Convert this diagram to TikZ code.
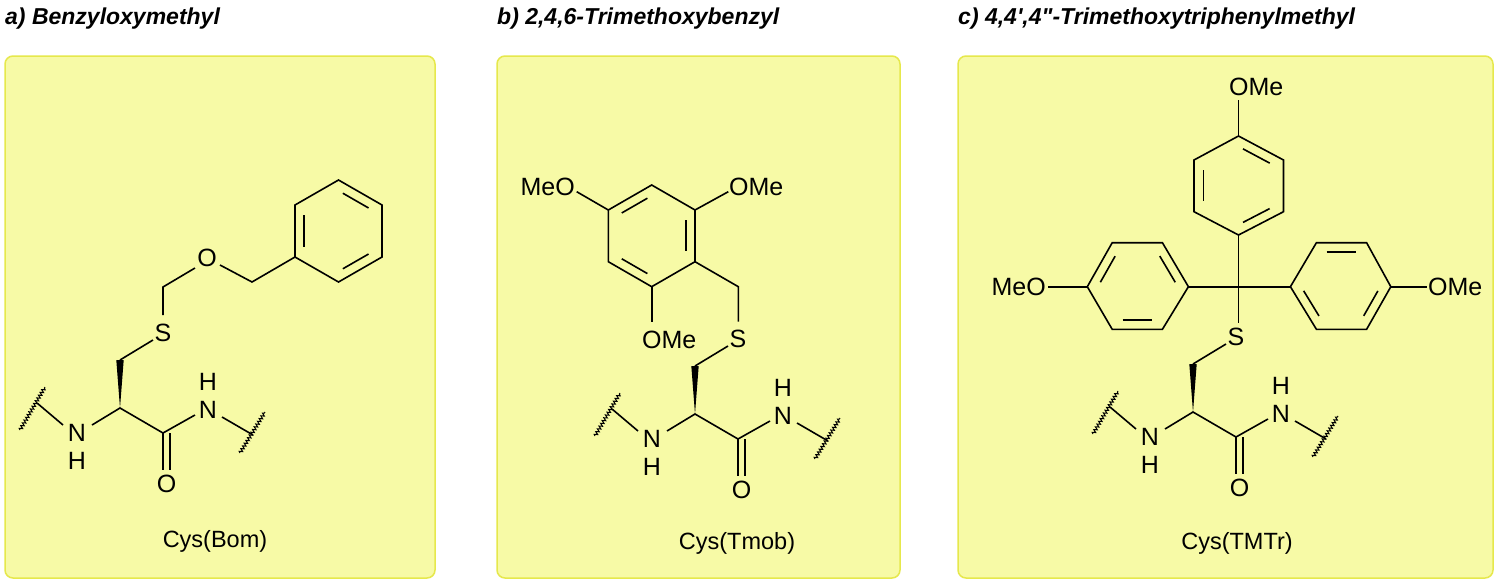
\documentclass[tikz,border=0pt]{standalone}
\usepackage{fontspec}
\setmainfont{Liberation Sans}
\newfontfamily\ttlfont{Liberation Sans}
\usetikzlibrary{calc,decorations.pathmorphing}
\definecolor{boxfill}{HTML}{F7FAA6}
\definecolor{boxline}{HTML}{E6E84C}
\tikzset{
  bond/.style={line width=1.6pt,line cap=butt},
  atom/.style={inner sep=0pt,font=\fontsize{25}{25}\selectfont},
  wavy/.style={line width=1pt,decorate,decoration={snake,segment length=3.2pt,amplitude=1.6pt}},
  panel/.style={draw=boxline,fill=boxfill,line width=1.5pt,rounded corners=8pt},
  ttl/.style={anchor=west,inner sep=0pt,font=\ttlfont\fontsize{23}{23}\selectfont\bfseries\itshape},
  caption/.style={inner sep=0pt,font=\fontsize{23.5}{23.5}\selectfont}
}
\newcommand{\backbone}[3]{%
\begin{scope}[shift={(#1,#2)}]
  \coordinate (#3wl1) at (20,430); \coordinate (#3wl2) at (45,387);
  \coordinate (#3a1) at (37,403); \coordinate (#3a2) at (63,425);
  \node[atom] (#3N1) at (77,433) {N}; \node[atom] (#3H1) at (77,461) {H};
  \coordinate (#3b1) at (92,425); \coordinate (#3Ca) at (120,408);
  \coordinate (#3CH) at (120,360); \coordinate (#3CHl) at (116.3,360); \coordinate (#3CHr) at (123.7,360);
  \coordinate (#3s1) at (153,340);
  \node[atom] (#3S) at (163,333) {S};
  \coordinate (#3C) at (163,433); \coordinate (#3Cb) at (163,470);
  \coordinate (#3C2) at (170,433); \coordinate (#3C2b) at (170,470);
  \node[atom] (#3O) at (166.5,484) {O};
  \coordinate (#3c1) at (195,415);
  \node[atom] (#3N2) at (208,410) {N}; \node[atom] (#3H2) at (208,382) {H};
  \coordinate (#3d1) at (222,417); \coordinate (#3d2) at (253,435);
  \coordinate (#3wr1) at (240,453); \coordinate (#3wr2) at (265,412);
  \draw[wavy] (#3wl1) -- (#3wl2);
  \draw[bond] (#3a1) -- (#3a2);
  \draw[bond] (#3b1) -- (#3Ca) -- (#3C) -- (#3c1);
  \fill (#3Ca) -- (#3CHl) -- (#3CHr) -- cycle;
  \draw[bond] (#3CH) -- (#3s1);
  \draw[bond] (#3C) -- (#3Cb);
  \draw[bond] (#3C2) -- (#3C2b);
  \draw[bond] (#3d1) -- (#3d2);
  \draw[wavy] (#3wr1) -- (#3wr2);
\end{scope}}
\newcommand{\inner}[3]{\draw[bond,shorten <=5pt,shorten >=5pt] ($(#1)!0.79!(#2)$) -- ($(#1)!0.79!(#3)$);}
\begin{document}
\begin{tikzpicture}[x=1pt,y=-1pt]
\useasboundingbox (0,0) rectangle (1498,584);
\fill[white] (0,0) rectangle (1498,584);
\draw[panel] (5,56) rectangle (435,578);
\draw[panel] (497,56) rectangle (900,578);
\draw[panel] (958,56) rectangle (1493,578);
\node[ttl] (ta) at (5,19) {a) Benzyloxymethyl};
\node[ttl] (tb) at (497,19) {b) 2,4,6-Trimethoxybenzyl};
\node[ttl] (tc) at (958,19) {c) 4,4',4"-Trimethoxytriphenylmethyl};
% ===== panel a =====
\backbone{0}{0}{a}
\node[caption] (capa) at (215,541) {Cys(Bom)};
\coordinate (as2) at (163,315); \coordinate (aM1) at (163,287); \coordinate (ao1) at (195,268);
\node[atom] (aO) at (207,258) {O};
\coordinate (ao2) at (220,265); \coordinate (aM2) at (252,282);
\coordinate (ar1) at (295,257); \coordinate (ar2) at (295,205); \coordinate (ar3) at (338.5,180);
\coordinate (ar4) at (382,205); \coordinate (ar5) at (382,257); \coordinate (ar6) at (338.5,282);
\coordinate (arc) at (338.5,231);
\draw[bond] (as2) -- (aM1) -- (ao1);
\draw[bond] (ao2) -- (aM2) -- (ar1);
\draw[bond,line join=miter] (ar1) -- (ar2) -- (ar3) -- (ar4) -- (ar5) -- (ar6) -- cycle;
\inner{arc}{ar1}{ar2} \inner{arc}{ar3}{ar4} \inner{arc}{ar5}{ar6}
% ===== panel b =====
\backbone{575}{6}{b}
\node[caption] (capb) at (737,543) {Cys(Tmob)};
\coordinate (br1) at (651.7,185); \coordinate (br2) at (695,210); \coordinate (br3) at (695,261.7);
\coordinate (br4) at (651.7,286.7); \coordinate (br5) at (608.3,261.7); \coordinate (br6) at (608.3,210);
\coordinate (brc) at (651.7,236);
\draw[bond,line join=miter] (br1) -- (br2) -- (br3) -- (br4) -- (br5) -- (br6) -- cycle;
\inner{brc}{br6}{br1} \inner{brc}{br2}{br3} \inner{brc}{br4}{br5}
\coordinate (bm1) at (576.7,191.7); \node[atom,anchor=east] (bMeO) at (575,187) {MeO};
\draw[bond] (br6) -- (bm1);
\coordinate (bm2) at (728.3,191.7); \node[atom,anchor=west] (bOMe1) at (729,187) {OMe};
\draw[bond] (br2) -- (bm2);
\coordinate (bm3) at (651.7,321.7); \node[atom,anchor=west] (bOMe2) at (642,340) {OMe};
\draw[bond] (br4) -- (bm3);
\coordinate (bM) at (738.3,286.7); \coordinate (bs2) at (738.3,321.7);
\draw[bond] (br3) -- (bM) -- (bs2);
% ===== panel c =====
\backbone{1073}{4}{c}
\node[caption] (capc) at (1237,543) {Cys(TMTr)};
\coordinate (ct1) at (1238.5,235); \coordinate (ct2) at (1283.5,211.7); \coordinate (ct3) at (1283.5,160);
\coordinate (ct4) at (1238.5,136); \coordinate (ct5) at (1194,160); \coordinate (ct6) at (1194,211.7);
\coordinate (ctc) at (1238.7,186);
\draw[bond,line join=miter] (ct1) -- (ct2) -- (ct3) -- (ct4) -- (ct5) -- (ct6) -- cycle;
\inner{ctc}{ct3}{ct4} \inner{ctc}{ct5}{ct6} \inner{ctc}{ct1}{ct2}
\coordinate (ctm) at (1238.5,100); \node[atom,anchor=west] (cOMe1) at (1229,87) {OMe};
\draw[bond] (ct4) -- (ctm);
\coordinate (cl1) at (1188.4,286.7); \coordinate (cl2) at (1162.4,242.7); \coordinate (cl3) at (1112.2,242.7);
\coordinate (cl4) at (1087.3,286.7); \coordinate (cl5) at (1112.2,329.3); \coordinate (cl6) at (1162.4,329.3);
\coordinate (clc) at (1137.8,286);
\draw[bond,line join=miter] (cl1) -- (cl2) -- (cl3) -- (cl4) -- (cl5) -- (cl6) -- cycle;
\inner{clc}{cl1}{cl2} \inner{clc}{cl3}{cl4} \inner{clc}{cl5}{cl6}
\coordinate (clm) at (1048,286.7); \node[atom,anchor=east] (cMeO) at (1046,287) {MeO};
\draw[bond] (cl4) -- (clm);
\coordinate (cr1) at (1290.4,286.7); \coordinate (cr2) at (1316.4,242.7); \coordinate (cr3) at (1366.6,242.7);
\coordinate (cr4) at (1390.8,286.7); \coordinate (cr5) at (1366.6,329.3); \coordinate (cr6) at (1316.4,329.3);
\coordinate (crc) at (1341,286);
\draw[bond,line join=miter] (cr1) -- (cr2) -- (cr3) -- (cr4) -- (cr5) -- (cr6) -- cycle;
\inner{crc}{cr2}{cr3} \inner{crc}{cr4}{cr5} \inner{crc}{cr6}{cr1}
\coordinate (crm) at (1427,286.7); \node[atom,anchor=west] (cOMe2) at (1428,287) {OMe};
\draw[bond] (cr4) -- (crm);
\coordinate (cs2) at (1238.5,323);
\draw[bond] (cl1) -- (cr1);
\draw[bond] (ct1) -- (cs2);
\end{tikzpicture}
\end{document}
